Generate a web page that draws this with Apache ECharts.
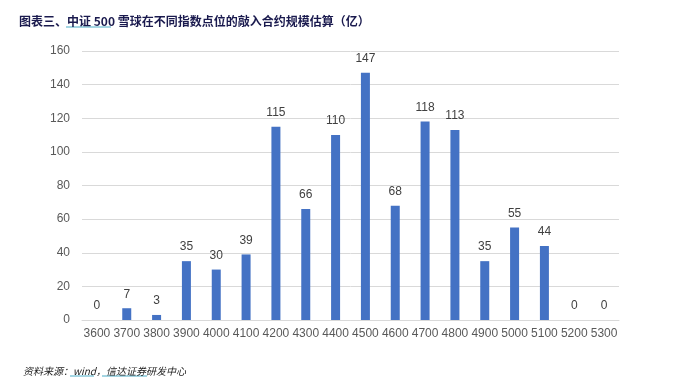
<!DOCTYPE html>
<html><head><meta charset="utf-8">
<script src="https://cdn.jsdelivr.net/npm/echarts@6/dist/echarts.min.js"></script>
<style>
body{margin:0;background:#fff;}
#c{width:683px;height:388px;}
</style></head><body>
<div id="c"></div>
<script>
var categories = ['3600','3700','3800','3900','4000','4100','4200','4300','4400','4500','4600','4700','4800','4900','5000','5100','5200','5300'];
var values = [0,7,3,35,30,39,115,66,110,147,68,118,113,35,55,44,0,0];
var yTicks = {min:0, max:160, interval:20};

var chart = echarts.init(document.getElementById('c'));
chart.setOption({
  animation:false,
  title:[{
    text:'图表三、中证 500 雪球在不同指数点位的敲入合约规模估算（亿）',
    left:14, top:10,
    textStyle:{fontSize:12, fontWeight:'bold', color:'#1a1a4e', fontFamily:'Noto Sans CJK SC'}
  },{
    text:'资料来源：wind，信达证券研发中心',
    left:18, top:361,
    textStyle:{fontSize:10, fontWeight:'normal', fontStyle:'italic', color:'#222', fontFamily:'Noto Sans CJK SC'}
  }],
  graphic:[
    {type:'line', shape:{x1:66,y1:27,x2:111,y2:27}, style:{stroke:'#4bacc6', lineWidth:1}},
    {type:'line', shape:{x1:70,y1:376,x2:94,y2:376}, style:{stroke:'#4bacc6', lineWidth:1}},
    {type:'line', shape:{x1:102,y1:376,x2:147,y2:376}, style:{stroke:'#4bacc6', lineWidth:1}}
  ],
  grid:{left:82, right:64, top:51, bottom:68, containLabel:false},
  xAxis:{type:'category', data:categories,
    axisLine:{lineStyle:{color:'#d9d9d9'}}, axisTick:{show:false},
    axisLabel:{color:'#595959', fontSize:12, fontFamily:'Liberation Sans', margin:8, interval:0}},
  yAxis:{type:'value', min:yTicks.min, max:yTicks.max, interval:yTicks.interval,
    axisLine:{show:false}, axisTick:{show:false},
    splitLine:{lineStyle:{color:'#d9d9d9'}},
    axisLabel:{color:'#595959', fontSize:12, fontFamily:'Liberation Sans', margin:12}},
  series:[{type:'bar', data:values, barWidth:9,
    itemStyle:{color:'#4472C4'},
    label:{show:true, position:'top', color:'#404040', fontSize:12, fontFamily:'Liberation Sans', distance:8}}]
});
</script>
</body></html>
